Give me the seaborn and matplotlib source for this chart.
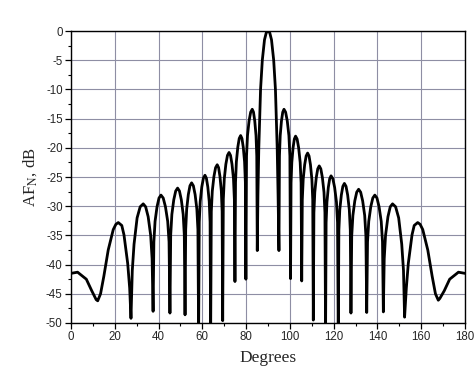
import numpy as np
import pandas as pd
import seaborn as sns
import matplotlib
matplotlib.use("Agg")
import matplotlib.pyplot as plt
from matplotlib.ticker import MultipleLocator

# Normalised array factor, one lobe per line (degrees, dB)
degrees = [
    0.0, 3.0, 7.0, 9.5, 11.5, 12.2, 13.5, 15.0, 17.0, 19.3, 20.5, 21.6, 23.2, 24.2, 25.9, 26.8, 27.4,
    28.0, 28.8, 30.2, 31.6, 33.0, 34.1, 35.25, 36.4, 37.05, 37.5,
    37.86, 38.4, 39.3, 40.2, 41.1, 42.13, 43.15, 44.18, 44.79, 45.2,
    45.55, 46.08, 46.95, 47.83, 48.7, 49.55, 50.4, 51.25, 51.76, 52.1,
    52.4, 52.85, 53.6, 54.35, 55.1, 55.9, 56.7, 57.5, 57.98, 58.3,
    58.59, 59.03, 59.75, 60.48, 61.2, 61.85, 62.5, 63.15, 63.54, 63.8,
    64.1, 64.55, 65.3, 66.05, 66.8, 67.43, 68.05, 68.68, 69.05, 69.3,
    69.59, 70.03, 70.75, 71.48, 72.2, 72.88, 73.55, 74.23, 74.63, 74.9,
    75.16, 75.55, 76.2, 76.85, 77.5, 78.1, 78.7, 79.3, 79.66, 79.9,
    80.19, 80.63, 81.35, 82.08, 82.8, 83.38, 83.95, 84.53, 84.87, 85.1,
    85.4, 85.8, 86.6, 87.4, 88.4, 89.2, 90.0, 90.8, 91.6, 92.6, 93.4, 94.2, 94.6, 95.0,
    95.23, 95.58, 96.15, 96.73, 97.3, 98.05, 98.8, 99.55, 100.0, 100.3,
    100.53, 100.88, 101.45, 102.03, 102.6, 103.3, 104.0, 104.7, 105.12, 105.4,
    105.67, 106.08, 106.75, 107.43, 108.1, 108.75, 109.4, 110.05, 110.44, 110.7,
    110.97, 111.38, 112.05, 112.73, 113.4, 114.13, 114.85, 115.58, 116.01, 116.3,
    116.55, 116.93, 117.55, 118.18, 118.8, 119.63, 120.45, 121.28, 121.77, 122.1,
    122.38, 122.8, 123.5, 124.2, 124.9, 125.65, 126.4, 127.15, 127.6, 127.9,
    128.25, 128.78, 129.65, 130.53, 131.4, 132.33, 133.25, 134.18, 134.73, 135.1,
    135.47, 136.03, 136.95, 137.88, 138.8, 139.78, 140.75, 141.73, 142.31, 142.7,
    143.1, 143.7, 144.8, 145.85, 146.9, 148.3, 149.7, 151.1, 151.9, 152.4,
    153.2, 154.1, 155.8, 156.8, 158.4, 159.5, 160.7, 163.0, 165.0, 166.5, 167.8, 168.5, 170.5, 173.0,
    177.0, 180.0,
]
af_db = [
    -41.5, -41.3, -42.5, -44.5, -46.0, -46.2, -45.0, -42.0, -37.5, -34.0, -33.1, -32.8, -33.3, -34.9, -39.8, -44.0, -49.2,
    -41.0, -36.5, -32.0, -30.1, -29.6, -30.1, -31.8, -35.0, -39.0, -48.0,
    -36.1, -32.6, -30.1, -28.6, -28.1, -28.6, -30.1, -32.6, -36.1, -48.3,
    -34.9, -31.4, -28.9, -27.4, -26.9, -27.4, -28.9, -31.4, -34.9, -48.6,
    -34.0, -30.5, -28.0, -26.5, -26.0, -26.5, -28.0, -30.5, -34.0, -52.0,
    -32.7, -29.2, -26.7, -25.2, -24.7, -25.2, -26.7, -29.2, -32.7, -52.0,
    -30.9, -27.4, -24.9, -23.4, -22.9, -23.4, -24.9, -27.4, -30.9, -49.6,
    -28.8, -25.3, -22.8, -21.3, -20.8, -21.3, -22.8, -25.3, -28.8, -42.9,
    -25.9, -22.4, -19.9, -18.4, -17.9, -18.4, -19.9, -22.4, -25.9, -42.5,
    -21.4, -17.9, -15.4, -13.9, -13.4, -13.9, -15.4, -17.9, -21.4, -37.6,
    -28.0, -20.0, -10.0, -5.0, -1.5, -0.3, 0.0, -0.3, -1.5, -5.0, -10.0, -20.0, -28.0, -37.6,
    -21.4, -17.9, -15.4, -13.9, -13.4, -13.9, -15.4, -17.9, -21.4, -42.4,
    -26.0, -22.5, -20.0, -18.5, -18.0, -18.5, -20.0, -22.5, -26.0, -42.8,
    -28.9, -25.4, -22.9, -21.4, -20.9, -21.4, -22.9, -25.4, -28.9, -49.5,
    -31.1, -27.6, -25.1, -23.6, -23.1, -23.6, -25.1, -27.6, -31.1, -52.0,
    -32.8, -29.3, -26.8, -25.3, -24.8, -25.3, -26.8, -29.3, -32.8, -52.0,
    -34.1, -30.6, -28.1, -26.6, -26.1, -26.6, -28.1, -30.6, -34.1, -48.3,
    -35.1, -31.6, -29.1, -27.6, -27.1, -27.6, -29.1, -31.6, -35.1, -48.2,
    -36.1, -32.6, -30.1, -28.6, -28.1, -28.6, -30.1, -32.6, -36.1, -48.1,
    -39.0, -35.0, -31.8, -30.1, -29.6, -30.1, -32.0, -36.5, -41.0, -49.0,
    -44.0, -39.8, -34.9, -33.3, -32.8, -33.1, -34.0, -37.5, -42.0, -45.0, -46.1, -45.8, -44.5, -42.5,
    -41.3, -41.5,
]

x_ticks = [0, 20, 40, 60, 80, 100, 120, 140, 160, 180]
y_ticks = [0, -5, -10, -15, -20, -25, -30, -35, -40, -45, -50]

df = pd.DataFrame({"deg": degrees, "af": af_db})

sns.set_style("white")
plt.rcParams["font.family"] = ["Liberation Sans", "DejaVu Sans"]
plt.rcParams["mathtext.fontset"] = "stix"

fig = plt.figure(figsize=(4.74, 3.67), dpi=100)
ax = fig.add_axes([0.1498, 0.1199, 0.8312, 0.7956])

sns.lineplot(data=df, x="deg", y="af", sort=False, estimator=None,
             color="black", linewidth=2.0, ax=ax)

ax.set_xlim(0, 180)
ax.set_ylim(-50, 0)
ax.set_xticks(x_ticks)
ax.set_yticks(y_ticks)
ax.set_xticklabels([str(t) for t in x_ticks], fontsize=8.3)
ax.set_yticklabels([str(t) for t in y_ticks], fontsize=8.3)
ax.xaxis.set_minor_locator(MultipleLocator(10))
ax.yaxis.set_minor_locator(MultipleLocator(2.5))
ax.tick_params(which="major", direction="out", length=4, width=0.9, color="black",
               bottom=True, left=True, top=False, right=False, pad=2)
ax.tick_params(which="minor", direction="out", length=2.5, width=0.8, color="black",
               bottom=True, left=True, top=False, right=False)

ax.grid(True, which="major", color="#8e8ea4", linewidth=0.8)
ax.set_axisbelow(True)
for s in ax.spines.values():
    s.set_visible(True)
    s.set_color("black")
    s.set_linewidth(1.0)

ax.set_xlabel("Degrees", fontsize=12.5, family="Liberation Serif", labelpad=5)
ax.set_ylabel(r"AF$_{\rm N}$, dB", fontsize=12, family="Liberation Serif", labelpad=5)

fig.savefig("out.png", dpi=100)
